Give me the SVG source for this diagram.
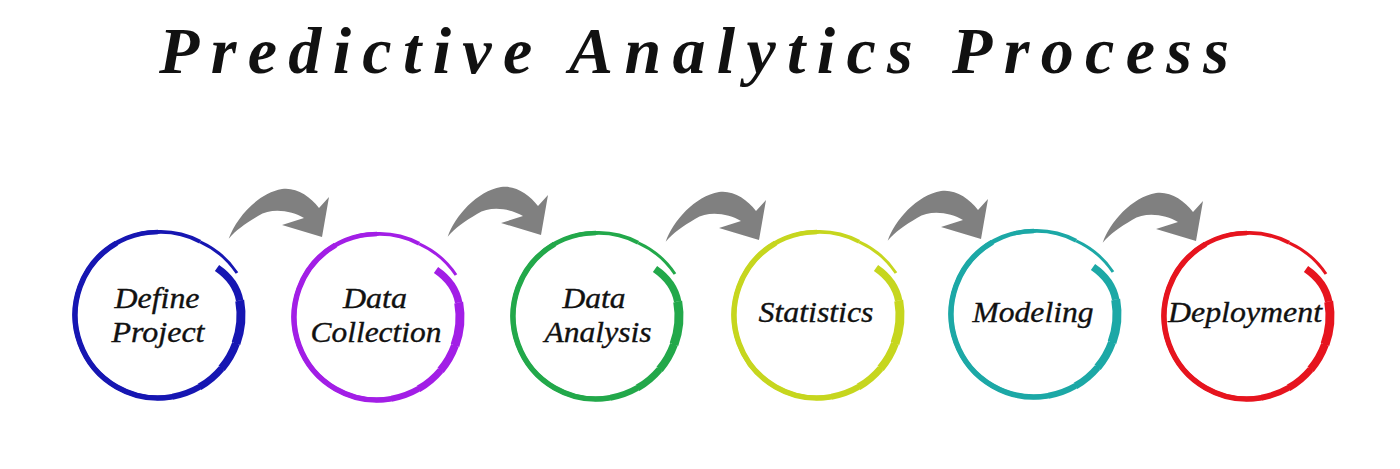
<svg xmlns="http://www.w3.org/2000/svg" xmlns:xlink="http://www.w3.org/1999/xlink" width="1400" height="469" viewBox="0 0 1400 469">
<style>
.title{font-family:"Liberation Serif","Times New Roman",serif;font-style:italic;font-weight:bold;font-size:66px;fill:#111}
.lbl{font-family:"Liberation Serif","Times New Roman",serif;font-style:italic;font-size:29px;fill:#111;stroke:#111;stroke-width:0.35;text-anchor:middle}
.ring path{fill:none;stroke-linecap:butt}
.arrow{fill:#808080}
</style>
<defs>
<g id="ring" class="ring">
<path stroke-width="4.5" d="M 81.7,-14.4 A 83 83 0 1 1 0,-83"/>
<path stroke-width="7.5" d="M 59,-47 Q 78,-34 81.7,-14.4"/>
<path stroke-width="9" d="M 81.7,-14.4 A 83 83 0 0 1 78.0,28.4"/>
<path stroke-width="8" d="M 78.0,28.4 A 83 83 0 0 1 63.6,53.4"/>
<path stroke-width="7" d="M 63.6,53.4 A 83 83 0 0 1 41.5,71.9"/>
<path stroke-width="6" d="M 41.5,71.9 A 83 83 0 0 1 14.4,81.7"/>
<path stroke-width="5.5" d="M 14.4,81.7 A 83 83 0 0 1 -41.5,-71.9"/>
<path stroke-width="3.8" d="M -20,-80.6 A 83 83 0 0 1 0,-83 A 84 84 0 0 1 42.2,-73.2"/>
<path stroke-width="3" d="M 42.2,-73.2 A 88 88 0 0 1 79,-42"/>
</g>
<path id="arr" d="M 228.7,238.7 C 236,218 258,193 282,189 C 296,187 310,196 319,208 L 329,197 L 322,237 L 282,225 L 304,218 C 292,211 272,207 258,216 C 246,223 236,230 228.7,238.7 Z"/>
</defs>
<rect width="1400" height="469" fill="#ffffff"/>
<text class="title" x="159" y="73" textLength="1070" lengthAdjust="spacing">Predictive Analytics Process</text>
<g id="connectors">
<use xlink:href="#arr" href="#arr" class="arrow" transform="translate(0,0)"/>
<use xlink:href="#arr" href="#arr" class="arrow" transform="translate(219,-2)"/>
<use xlink:href="#arr" href="#arr" class="arrow" transform="translate(437,3)"/>
<use xlink:href="#arr" href="#arr" class="arrow" transform="translate(659,2)"/>
<use xlink:href="#arr" href="#arr" class="arrow" transform="translate(874,4)"/>
</g>
<g id="node-define-project">
<use xlink:href="#ring" href="#ring" transform="translate(158,315)" stroke="#1616b2"/>
<text class="lbl" x="157" y="308" textLength="85" lengthAdjust="spacingAndGlyphs">Define</text>
<text class="lbl" x="158" y="342" textLength="93" lengthAdjust="spacingAndGlyphs">Project</text>
</g>
<g id="node-data-collection">
<use xlink:href="#ring" href="#ring" transform="translate(377,317)" stroke="#a21ee6"/>
<text class="lbl" x="375" y="308" textLength="64" lengthAdjust="spacingAndGlyphs">Data</text>
<text class="lbl" x="376" y="342" textLength="131" lengthAdjust="spacingAndGlyphs">Collection</text>
</g>
<g id="node-data-analysis">
<use xlink:href="#ring" href="#ring" transform="translate(596,316)" stroke="#22a84a"/>
<text class="lbl" x="594" y="308" textLength="63" lengthAdjust="spacingAndGlyphs">Data</text>
<text class="lbl" x="598" y="342" textLength="107" lengthAdjust="spacingAndGlyphs">Analysis</text>
</g>
<g id="node-statistics">
<use xlink:href="#ring" href="#ring" transform="translate(817,315)" stroke="#c6d61e"/>
<text class="lbl" x="816" y="322" textLength="115" lengthAdjust="spacingAndGlyphs">Statistics</text>
</g>
<g id="node-modeling">
<use xlink:href="#ring" href="#ring" transform="translate(1034,314)" stroke="#1ca8a6"/>
<text class="lbl" x="1033" y="322" textLength="121" lengthAdjust="spacingAndGlyphs">Modeling</text>
</g>
<g id="node-deployment">
<use xlink:href="#ring" href="#ring" transform="translate(1247,316)" stroke="#e6141e"/>
<text class="lbl" x="1245" y="322" textLength="154" lengthAdjust="spacingAndGlyphs">Deployment</text>
</g>
</svg>
